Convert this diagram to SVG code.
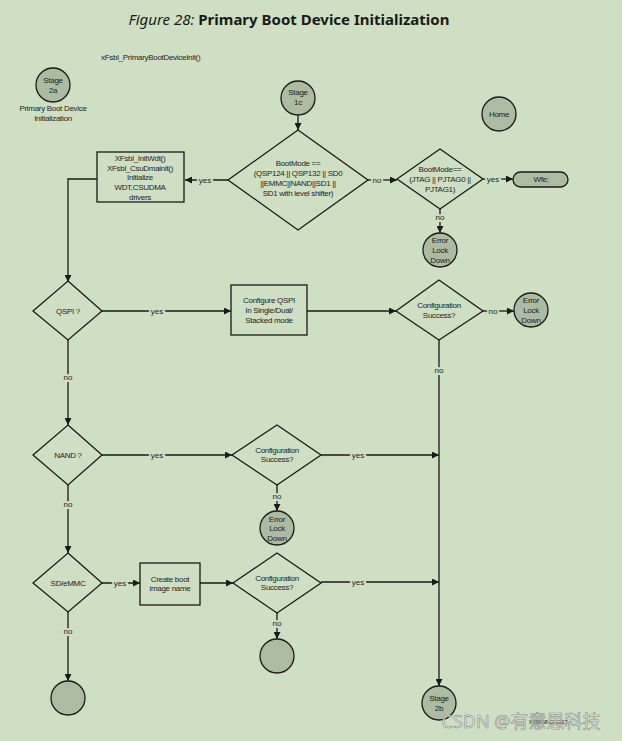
<svg xmlns="http://www.w3.org/2000/svg" width="622" height="741" viewBox="0 0 622 741">
<style>
.bg{fill:#cfdfc4}
.t{font-family:"Liberation Sans",Arial,sans-serif;font-size:8px;fill:#1e1e1e;text-anchor:middle;letter-spacing:-0.3px}
.lbl{font-family:"Liberation Sans",Arial,sans-serif;font-size:8px;fill:#1e1e1e;text-anchor:middle;paint-order:stroke;stroke:#cfdfc4;stroke-width:4px}
.shape{fill:none;stroke:#1a1a1a;stroke-width:1.3}
.circ{fill:#adbba3;stroke:#1a1a1a;stroke-width:1.3}
.box{fill:#cfdfc4;stroke:#1a1a1a;stroke-width:1.3}
.c{fill:none;stroke:#1a1a1a;stroke-width:1.3;marker-end:url(#ah)}
.cn{fill:none;stroke:#1a1a1a;stroke-width:1.3}
</style>
<defs>
<marker id="ah" viewBox="0 0 10 10" refX="10" refY="5" markerWidth="7" markerHeight="7" markerUnits="userSpaceOnUse" orient="auto">
<path d="M0,0 L10,5 L0,10 z" fill="#1a1a1a"/>
</marker>
</defs>
<rect class="bg" x="0" y="0" width="622" height="741"/>
<text x="289" y="25" font-family="'Noto Sans','Open Sans',sans-serif" font-size="15" fill="#1a1a1a" text-anchor="middle"><tspan font-style="italic">Figure 28:</tspan><tspan font-weight="bold"> Primary Boot Device Initialization</tspan></text>
<text class="t" x="101" y="60" style="text-anchor:start">xFsbl_PrimaryBootDeviceInit()</text>

<g id="connectors">
<line class="c" x1="298" y1="115" x2="298" y2="130"/>
<line class="c" x1="228" y1="180" x2="185" y2="180"/>
<polyline class="c" points="97,179 68,179 68,282"/>
<line class="c" x1="368" y1="180" x2="397" y2="180"/>
<line class="c" x1="483" y1="179" x2="513" y2="179"/>
<line class="c" x1="440" y1="209" x2="440" y2="233"/>
<line class="c" x1="102" y1="311" x2="231" y2="311"/>
<line class="c" x1="307" y1="311" x2="396" y2="311"/>
<line class="c" x1="483" y1="311" x2="514" y2="311"/>
<line class="c" x1="439" y1="340" x2="439" y2="686"/>
<line class="c" x1="68" y1="340" x2="68" y2="425"/>
<line class="c" x1="102" y1="455" x2="232" y2="455"/>
<line class="c" x1="321" y1="455" x2="439" y2="455"/>
<line class="c" x1="277" y1="485" x2="277" y2="511"/>
<line class="c" x1="68" y1="485" x2="68" y2="553"/>
<line class="c" x1="102" y1="583" x2="140" y2="583"/>
<line class="c" x1="200" y1="583" x2="233" y2="583"/>
<line class="c" x1="321" y1="582" x2="439" y2="582"/>
<line class="c" x1="277" y1="613" x2="277" y2="639"/>
<line class="c" x1="68" y1="612" x2="68" y2="681"/>
<text class="lbl" x="205" y="183">yes</text>
<text class="lbl" x="377" y="183">no</text>
<text class="lbl" x="493" y="182">yes</text>
<text class="lbl" x="440" y="220">no</text>
<text class="lbl" x="157" y="314">yes</text>
<text class="lbl" x="493" y="314">no</text>
<text class="lbl" x="439" y="373">no</text>
<text class="lbl" x="68" y="380">no</text>
<text class="lbl" x="157" y="458">yes</text>
<text class="lbl" x="358" y="458">yes</text>
<text class="lbl" x="277" y="499">no</text>
<text class="lbl" x="68" y="507">no</text>
<text class="lbl" x="120" y="586">yes</text>
<text class="lbl" x="358" y="585">yes</text>
<text class="lbl" x="277" y="626">no</text>
<text class="lbl" x="68" y="634">no</text>
</g>

<g id="stage2a">
<circle class="circ" cx="53" cy="85" r="17"/>
<text class="t" x="53" y="83">Stage</text>
<text class="t" x="53" y="93">2a</text>
<text class="t" x="53" y="111">Primary Boot Device</text>
<text class="t" x="53" y="121">Initialization</text>
</g>
<g id="stage1c">
<circle class="circ" cx="298" cy="98" r="17"/>
<text class="t" x="298" y="95">Stage</text>
<text class="t" x="298" y="105">1c</text>
</g>
<g id="home">
<circle class="circ" cx="499" cy="114" r="17"/>
<text class="t" x="499" y="117">Home</text>
</g>
<g id="bootmode1">
<polygon class="shape" points="298,130 368,180 298,230 228,180"/>
<text class="t" x="298" y="166">BootMode ==</text>
<text class="t" x="298" y="176">(QSP124 || QSP132 || SD0</text>
<text class="t" x="298" y="186">||EMMC||NAND||SD1 ||</text>
<text class="t" x="298" y="196">SD1 with level shifter)</text>
</g>
<g id="initwdt">
<rect class="box" x="97" y="152" width="87" height="50"/>
<text class="t" x="140" y="161">XFsbl_InitWdt()</text>
<text class="t" x="140" y="171">XFsbl_CsuDmainit()</text>
<text class="t" x="140" y="180">Initialize</text>
<text class="t" x="140" y="190">WDT,CSUDMA</text>
<text class="t" x="140" y="200">drivers</text>
</g>
<g id="bootmode2">
<polygon class="shape" points="440,149 483,179 440,209 397,179"/>
<text class="t" x="440" y="172">BootMode==</text>
<text class="t" x="440" y="182">(JTAG || PJTAG0 ||</text>
<text class="t" x="440" y="192">PJTAG1)</text>
</g>
<g id="wfe">
<rect class="circ" x="513" y="172" width="55" height="15" rx="7.5"/>
<text class="t" x="541" y="182">Wfe;</text>
</g>
<g id="error1">
<circle class="circ" cx="440" cy="250" r="17"/>
<text class="t" x="440" y="243">Error</text>
<text class="t" x="440" y="253">Lock</text>
<text class="t" x="440" y="263">Down</text>
</g>
<g id="qspi">
<polygon class="shape" points="68,281 102,311 68,340 33,311"/>
<text class="t" x="68" y="314">QSPI ?</text>
</g>
<g id="configqspi">
<rect class="box" x="231" y="285" width="76" height="50"/>
<text class="t" x="269" y="303">Configure QSPI</text>
<text class="t" x="269" y="313">In Single/Dual/</text>
<text class="t" x="269" y="323">Stacked mode</text>
</g>
<g id="config1">
<polygon class="shape" points="439,280 483,311 439,340 396,311"/>
<text class="t" x="439" y="308">Configuration</text>
<text class="t" x="439" y="318">Success?</text>
</g>
<g id="error2">
<circle class="circ" cx="531" cy="310" r="17"/>
<text class="t" x="531" y="303">Error</text>
<text class="t" x="531" y="313">Lock</text>
<text class="t" x="531" y="323">Down</text>
</g>
<g id="nand">
<polygon class="shape" points="68,425 102,455 68,485 33,455"/>
<text class="t" x="68" y="458">NAND ?</text>
</g>
<g id="config2">
<polygon class="shape" points="277,425 321,455 277,485 232,455"/>
<text class="t" x="277" y="453">Configuration</text>
<text class="t" x="277" y="462">Success?</text>
</g>
<g id="error3">
<circle class="circ" cx="277" cy="528" r="17"/>
<text class="t" x="277" y="522">Error</text>
<text class="t" x="277" y="531">Lock</text>
<text class="t" x="277" y="541">Down</text>
</g>
<g id="sdemmc">
<polygon class="shape" points="68,553 102,583 68,612 33,583"/>
<text class="t" x="68" y="586">SD/eMMC</text>
</g>
<g id="createboot">
<rect class="box" x="140" y="563" width="60" height="42"/>
<text class="t" x="170" y="582">Create boot</text>
<text class="t" x="170" y="591">image name</text>
</g>
<g id="config3">
<polygon class="shape" points="277,553 321,583 277,613 233,583"/>
<text class="t" x="277" y="581">Configuration</text>
<text class="t" x="277" y="590">Success?</text>
</g>
<g id="circleA">
<circle class="circ" cx="277" cy="656" r="17"/>
</g>
<g id="circleB">
<circle class="circ" cx="68" cy="698" r="17"/>
</g>
<g id="stage2b">
<circle class="circ" cx="439" cy="703" r="17"/>
<text class="t" x="439" y="701">Stage</text>
<text class="t" x="439" y="711">2b</text>
</g>
<text class="t" x="548" y="724" style="font-size:6px">X19668-091917</text>
<text x="521" y="728" font-family="'Noto Sans','Noto Sans CJK SC',sans-serif" font-size="18" fill="#f4f4f4" fill-opacity="0.8" stroke="#8a8a8a" stroke-width="0.6" text-anchor="middle">CSDN @有意思科技</text>
</svg>
